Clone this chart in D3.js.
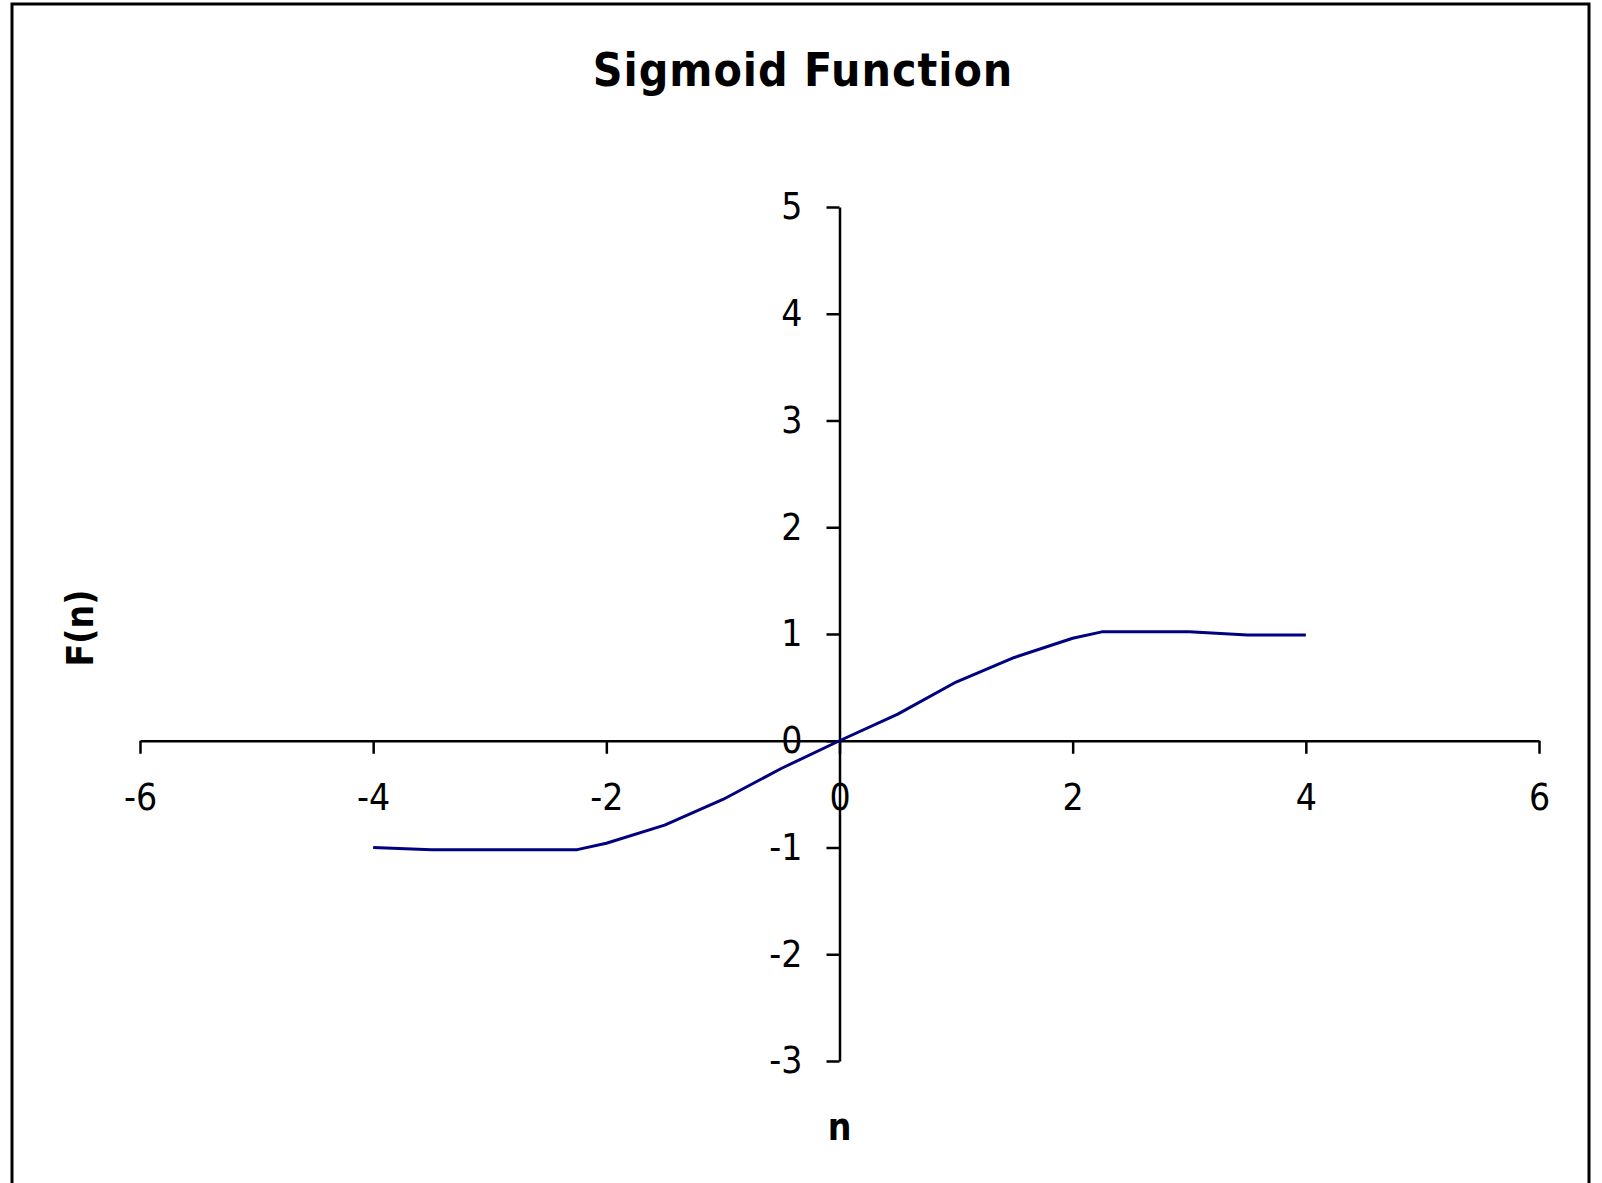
<!DOCTYPE html>
<html>
<head>
<meta charset="utf-8">
<script src="https://cdn.jsdelivr.net/npm/d3@7/dist/d3.min.js"></script>
<style>
  html, body { margin: 0; padding: 0; background: #fff; }
  svg { display: block; }
</style>
</head>
<body>
<div id="chart"></div>
<script>
// ---------- data ----------
const nValues = [-4, -3.5, -3, -2.5, -2.25, -2, -1.5, -1, -0.5, 0, 0.5, 1, 1.5, 2, 2.25, 2.5, 3, 3.5, 4];
const fValues = [-1.0, -1.02, -1.02, -1.02, -1.02, -0.96, -0.79, -0.55, -0.26, 0, 0.25, 0.55, 0.78, 0.96, 1.02, 1.02, 1.02, 0.99, 0.99];
const xTicks = [-6, -4, -2, 0, 2, 4, 6];
const yTicks = [-3, -2, -1, 0, 1, 2, 3, 4, 5];

const W = 1602, H = 1183;
const font = '"DejaVu Sans Condensed", "DejaVu Sans", sans-serif';

const svg = d3.select('#chart').append('svg')
  .attr('width', W)
  .attr('height', H);

// chart border (runs off the bottom like the original)
svg.append('rect')
  .attr('x', 12).attr('y', 4)
  .attr('width', 1577).attr('height', H + 20)
  .attr('fill', '#fff')
  .attr('stroke', '#000')
  .attr('stroke-width', 3);

const x = d3.scaleLinear().domain([-6, 6]).range([140, 1539]);
const y = d3.scaleLinear().domain([-3, 5]).range([1061, 207]);

// ---------- axes (crossing at 0,0) ----------
const xAxis = svg.append('g')
  .attr('transform', `translate(0,${y(0)})`)
  .call(d3.axisBottom(x).tickValues(xTicks).tickSize(13).tickSizeOuter(0).tickPadding(30)
    .tickFormat(d3.format('d')));

const yAxis = svg.append('g')
  .attr('transform', `translate(${x(0)},0)`)
  .call(d3.axisLeft(y).tickValues(yTicks).tickSize(13).tickSizeOuter(0).tickPadding(24)
    .tickFormat(d3.format('d')));

[xAxis, yAxis].forEach(g => {
  g.select('.domain').attr('stroke', '#000').attr('stroke-width', 2.5);
  g.selectAll('.tick line').attr('stroke', '#000').attr('stroke-width', 2.5);
  g.selectAll('.tick text')
    .attr('fill', '#000')
    .style('font-family', font)
    .style('font-size', '37px');
});
// d3 uses a unicode minus; the original uses a plain hyphen
svg.selectAll('.tick text').text(function () { return this.textContent.replace('\u2212', '-'); });

// ---------- series ----------
const pts = nValues.map((n, i) => [n, fValues[i]]);
svg.append('path')
  .datum(pts)
  .attr('fill', 'none')
  .attr('stroke', '#000080')
  .attr('stroke-width', 3)
  .attr('stroke-linejoin', 'round')
  .attr('d', d3.line().x(d => x(d[0])).y(d => y(d[1])));

// ---------- titles ----------
svg.append('text')
  .attr('x', 803).attr('y', 86)
  .attr('text-anchor', 'middle')
  .style('font-family', font)
  .style('font-weight', 'bold')
  .style('font-size', '46px')
  .style('letter-spacing', '1px')
  .text('Sigmoid Function');

svg.append('text')
  .attr('x', x(0)).attr('y', 1140)
  .attr('text-anchor', 'middle')
  .style('font-family', font)
  .style('font-weight', 'bold')
  .style('font-size', '37px')
  .text('n');

svg.append('text')
  .attr('transform', `translate(93,${(y(5) + y(-3)) / 2 - 6}) rotate(-90)`)
  .attr('text-anchor', 'middle')
  .style('font-family', font)
  .style('font-weight', 'bold')
  .style('font-size', '37px')
  .text('F(n)');
</script>
</body>
</html>
